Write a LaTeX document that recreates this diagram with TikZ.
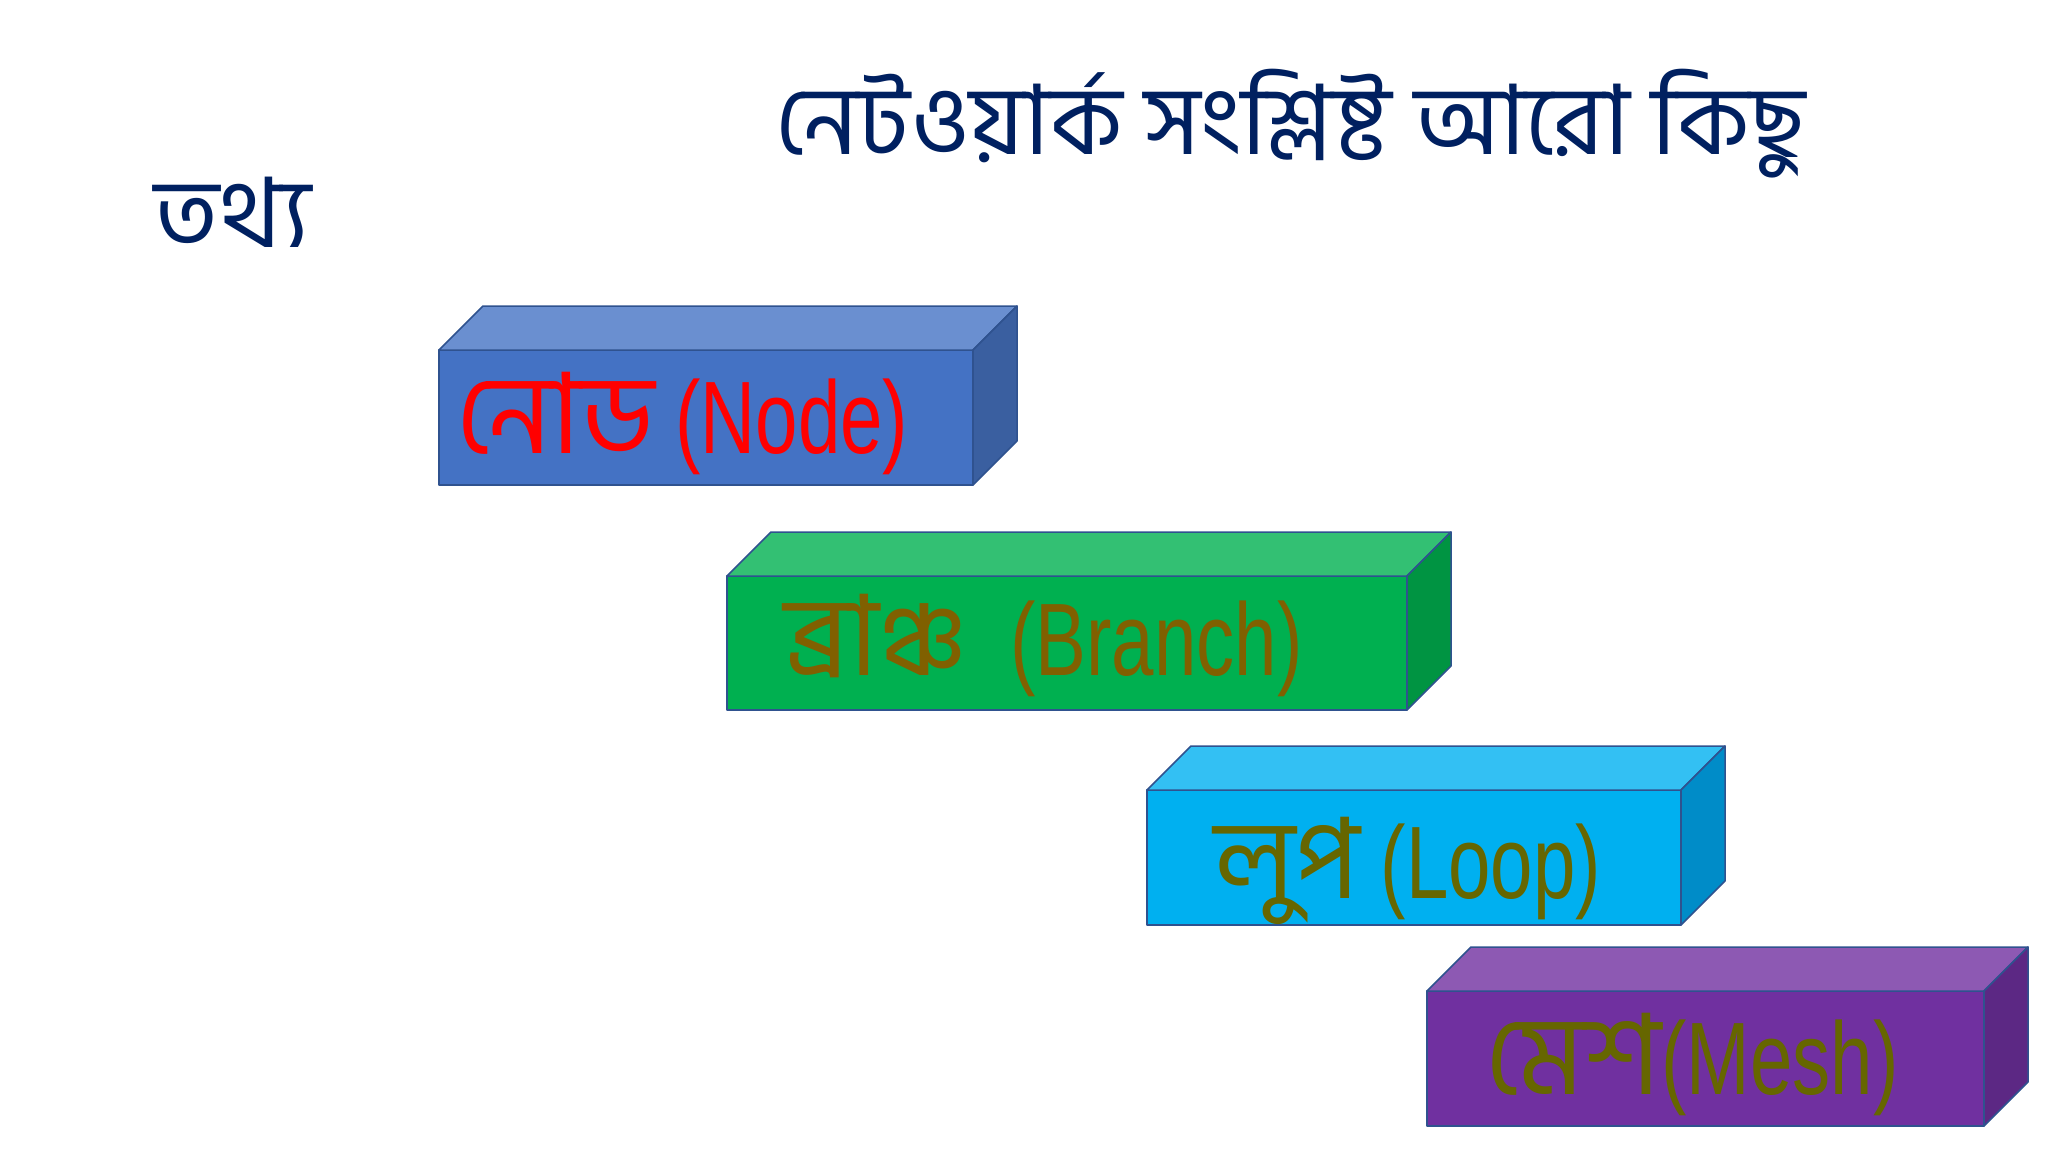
\documentclass[tikz,border=0pt]{standalone}
\usepackage{fontspec}
\setmainfont{Liberation Sans}
\newfontfamily\narrow[FakeStretch=0.74]{Liberation Sans}
\newfontfamily\bn[Script=Bengali]{Hind Siliguri}
\definecolor{navy}{RGB}{0,32,96}
\definecolor{edge}{RGB}{47,82,143}
\definecolor{nodeF}{RGB}{68,114,196}
\definecolor{nodeT}{RGB}{106,143,208}
\definecolor{nodeS}{RGB}{58,95,160}
\definecolor{brF}{RGB}{0,176,80}
\definecolor{brT}{RGB}{51,192,115}
\definecolor{brS}{RGB}{0,148,66}
\definecolor{lpF}{RGB}{0,176,240}
\definecolor{lpT}{RGB}{51,192,243}
\definecolor{lpS}{RGB}{0,140,200}
\definecolor{msF}{RGB}{112,48,160}
\definecolor{msT}{RGB}{141,89,179}
\definecolor{msS}{RGB}{92,40,132}
\definecolor{brown}{RGB}{128,96,0}
\definecolor{olive}{RGB}{102,102,0}
\newcommand{\bnbox}[1]{{\bn\fontsize{112}{120}\selectfont #1}}
\begin{document}
\begin{tikzpicture}[x=1pt,y=1pt]
\tikzset{face/.style={draw=edge,line width=1.5pt,line join=round},
  label/.style={anchor=base west,inner sep=0pt,font=\narrow\fontsize{103}{110}\selectfont}}
\fill [white] (0,0) rectangle (2048,-1152);
% title
\node [anchor=base west,inner sep=0pt,text=navy,font=\bn\fontsize{97}{110}\selectfont] (title) at (775,-154) {নেটওয়ার্ক সংশ্লিষ্ট আরো কিছু};
\node [anchor=base west,inner sep=0pt,text=navy,font=\bn\fontsize{97}{110}\selectfont] (info) at (154,-247) {তথ্য};
% node
\draw [face,fill=nodeF] (439,-350) rectangle (973,-485);
\draw [face,fill=nodeT] (439,-350) -- (483,-306) -- (1017,-306) -- (973,-350) -- cycle;
\draw [face,fill=nodeS] (973,-350) -- (1017,-306) -- (1017,-441) -- (973,-485) -- cycle;
\node [label,text=red] (node) at (456,-453) {\bnbox{নোড} (Node)};
% branch
\draw [face,fill=brF] (727,-576) rectangle (1407,-710);
\draw [face,fill=brT] (727,-576) -- (771,-532) -- (1451,-532) -- (1407,-576) -- cycle;
\draw [face,fill=brS] (1407,-576) -- (1451,-532) -- (1451,-666) -- (1407,-710) -- cycle;
\node [label,text=brown] (branch) at (784,-675) {\bnbox{ব্রাঞ্চ}\ \ (Branch)};
% loop
\draw [face,fill=lpF] (1147,-790) rectangle (1681,-925);
\draw [face,fill=lpT] (1147,-790) -- (1191,-746) -- (1725,-746) -- (1681,-790) -- cycle;
\draw [face,fill=lpS] (1681,-790) -- (1725,-746) -- (1725,-881) -- (1681,-925) -- cycle;
\node [label,text=olive] (loop) at (1214,-898) {\bnbox{লুপ} (Loop)};
% mesh
\draw [face,fill=msF] (1427,-991) rectangle (1984,-1126);
\draw [face,fill=msT] (1427,-991) -- (1471,-947) -- (2028,-947) -- (1984,-991) -- cycle;
\draw [face,fill=msS] (1984,-991) -- (2028,-947) -- (2028,-1082) -- (1984,-1126) -- cycle;
\node [label,text=olive] (mesh) at (1485,-1094) {\bnbox{মেশ}(Mesh)};
\end{tikzpicture}
\end{document}
